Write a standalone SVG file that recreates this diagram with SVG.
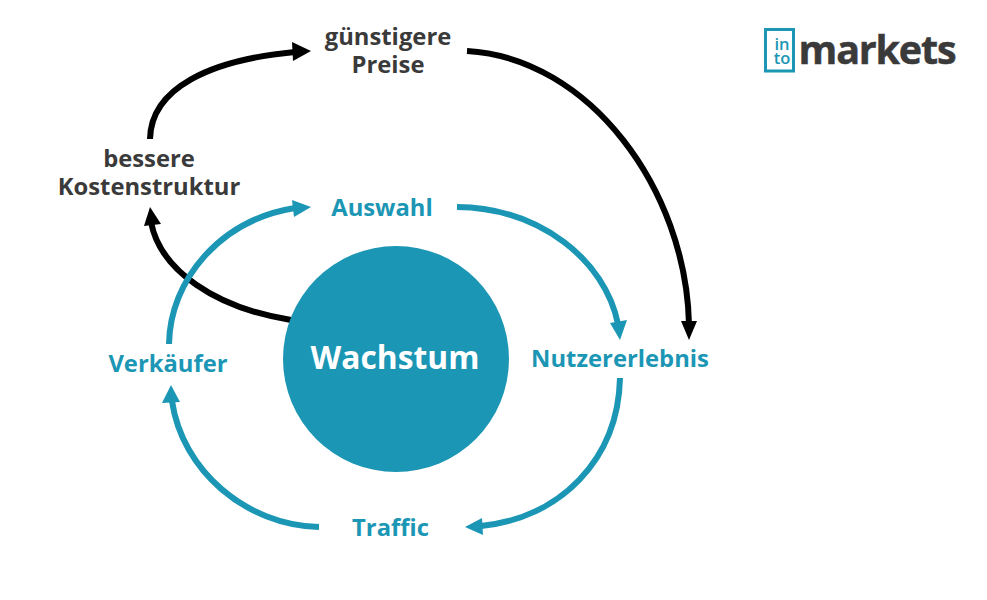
<svg xmlns="http://www.w3.org/2000/svg" width="987" height="600" viewBox="0 0 987 600">
<style>
text{font-family:"Open Sans","Noto Sans",sans-serif;font-weight:700;text-anchor:middle}
.l{font-size:23.800px}
.b{fill:#1b96b4}
.k{fill:#3a3a3a}
.cb{fill:none;stroke:#1b96b4;stroke-width:6}
.ck{fill:none;stroke:#000;stroke-width:6}
</style>
<rect width="987" height="600" fill="#fff"/>
<g id="connectors">
<path class="ck" d="M150 139C151 88 210 60 295 52"/>
<polygon points="311,51 292,42 293,61" fill="#000"/>
<path class="ck" d="M467 51C590 58 686 190 689 324"/>
<polygon points="689,340 681,321 697,321" fill="#000"/>
<path class="ck" d="M291 320C215 308 160 270 151 222"/>
<polygon points="150,207 144,226 161,224" fill="#000"/>
<path class="cb" d="M169 344C170 280 220 220 295 208"/>
<polygon points="311,207 292,200 294,217" class="b"/>
<path class="cb" d="M457 207C540 208 605 260 618 324"/>
<polygon points="620,340 610,323 627,320" class="b"/>
<path class="cb" d="M620 378C618 460 560 518 481 526"/>
<polygon points="465,527 482,518 483,535" class="b"/>
<path class="cb" d="M319 527C245 525 182 470 172 401"/>
<polygon points="171,385 162,403 180,402" class="b"/>
</g>
<g id="wachstum"><circle cx="396" cy="359" r="113" class="b"/><text x="395" y="369" font-size="31.800" fill="#fff">Wachstum</text></g>
<g id="guenstigere-preise"><text class="l k"><tspan x="388" y="45">günstigere</tspan><tspan x="388" y="73">Preise</tspan></text></g>
<g id="kostenstruktur"><text class="l k"><tspan x="149" y="167">bessere</tspan><tspan x="149" y="195">Kostenstruktur</tspan></text></g>
<g id="auswahl"><text class="l b" x="382" y="216">Auswahl</text></g>
<g id="nutzererlebnis"><text class="l b" x="620" y="367">Nutzererlebnis</text></g>
<g id="traffic"><text class="l b" x="390.500" y="536">Traffic</text></g>
<g id="verkaeufer"><text class="l b" x="168" y="372">Verkäufer</text></g>
<g id="logo">
<rect x="765.500" y="29.500" width="28" height="41.500" fill="none" stroke="#1b96b4" stroke-width="3"/>
<text class="b" font-size="16.500" style="font-weight:600"><tspan x="782" y="50">in</tspan><tspan x="782" y="64">to</tspan></text>
<text x="877" y="63.500" font-size="39.500" fill="#3a3a3a" stroke="#3a3a3a" stroke-width="0.500" style="letter-spacing:-1.200px">markets</text>
</g>
</svg>
